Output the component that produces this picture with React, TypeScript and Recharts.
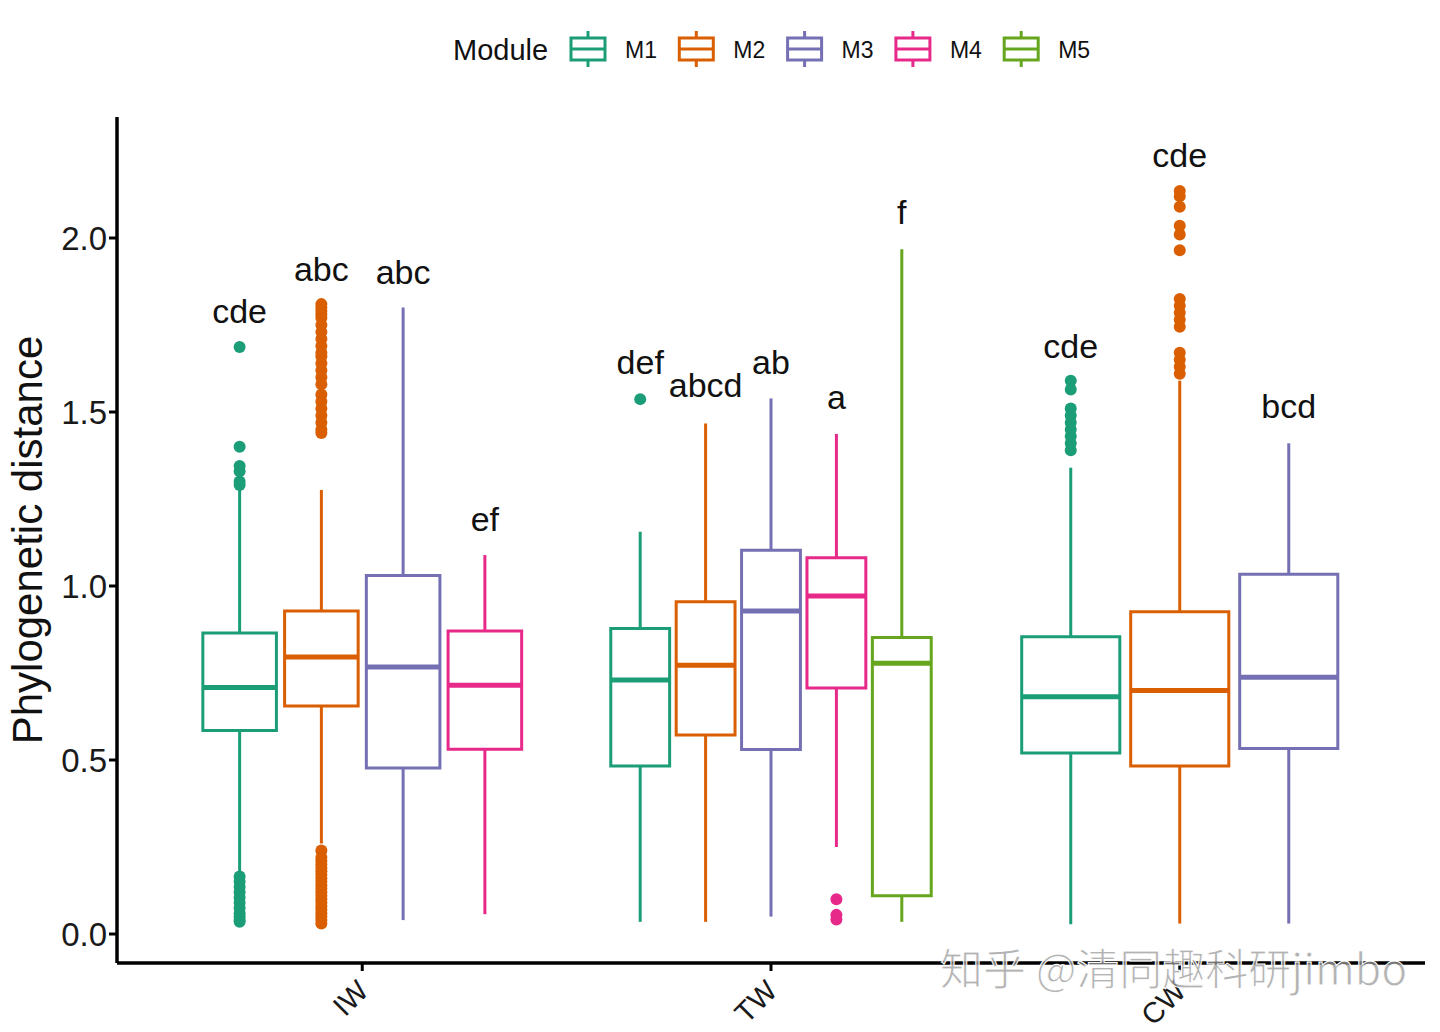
import {
  ComposedChart,
  XAxis,
  YAxis,
  Scatter,
  ReferenceArea,
  ReferenceLine,
} from "recharts";

const FONT = "'Liberation Sans', Arial, sans-serif";

const categories = ["IW", "TW", "CW"];
const modules = ["M1", "M2", "M3", "M4", "M5"];
const colors = ["#1B9E77", "#D95F02", "#7570B3", "#E7298A", "#66A61E"];
const yTicks = [0, 0.5, 1, 1.5, 2];

// outliers
const IW_M1_OUT = [1.687, 1.4, 1.345, 1.33, 1.3, 1.29, 0.165, 0.15, 0.135, 0.12, 0.105, 0.09, 0.075, 0.06, 0.05, 0.04, 0.035];
const IW_M2_OUT = [
  1.81, 1.8, 1.79, 1.78, 1.77, 1.75, 1.73, 1.71, 1.69, 1.67, 1.66, 1.64, 1.62, 1.6, 1.58, 1.55, 1.53, 1.51, 1.49,
  1.47, 1.45, 1.44, 0.24, 0.22, 0.21, 0.2, 0.19, 0.18, 0.17, 0.16, 0.15, 0.14, 0.13, 0.12, 0.11, 0.1, 0.09, 0.08,
  0.07, 0.06, 0.05, 0.04, 0.03,
];
const TW_M1_OUT = [1.537];
const TW_M4_OUT = [0.1, 0.055, 0.042];
const CW_M1_OUT = [1.59, 1.565, 1.51, 1.49, 1.47, 1.45, 1.43, 1.41, 1.39];
const CW_M2_OUT = [2.135, 2.12, 2.09, 2.035, 2.01, 1.965, 1.825, 1.805, 1.785, 1.765, 1.745, 1.67, 1.65, 1.63, 1.61];

const IW_BOXES = [
  { m: 0, lo: 0.18, q1: 0.585, med: 0.708, q3: 0.865, hi: 1.28, letter: "cde", ly: 1.79, out: IW_M1_OUT },
  { m: 1, lo: 0.26, q1: 0.655, med: 0.796, q3: 0.928, hi: 1.276, letter: "abc", ly: 1.911, out: IW_M2_OUT },
  { m: 2, lo: 0.04, q1: 0.477, med: 0.767, q3: 1.03, hi: 1.8, letter: "abc", ly: 1.902, out: [] },
  { m: 3, lo: 0.057, q1: 0.531, med: 0.715, q3: 0.871, hi: 1.089, letter: "ef", ly: 1.193, out: [] },
];
const TW_BOXES = [
  { m: 0, lo: 0.035, q1: 0.483, med: 0.73, q3: 0.878, hi: 1.156, letter: "def", ly: 1.644, out: TW_M1_OUT },
  { m: 1, lo: 0.035, q1: 0.572, med: 0.772, q3: 0.955, hi: 1.467, letter: "abcd", ly: 1.578, out: [] },
  { m: 2, lo: 0.05, q1: 0.53, med: 0.928, q3: 1.103, hi: 1.539, letter: "ab", ly: 1.644, out: [] },
  { m: 3, lo: 0.25, q1: 0.707, med: 0.971, q3: 1.081, hi: 1.437, letter: "a", ly: 1.543, out: TW_M4_OUT },
  { m: 4, lo: 0.035, q1: 0.11, med: 0.778, q3: 0.852, hi: 1.968, letter: "f", ly: 2.075, out: [] },
];
const CW_BOXES = [
  { m: 0, lo: 0.028, q1: 0.52, med: 0.682, q3: 0.854, hi: 1.34, letter: "cde", ly: 1.69, out: CW_M1_OUT },
  { m: 1, lo: 0.03, q1: 0.483, med: 0.7, q3: 0.926, hi: 1.59, letter: "cde", ly: 2.239, out: CW_M2_OUT },
  { m: 2, lo: 0.03, q1: 0.533, med: 0.738, q3: 1.034, hi: 1.41, letter: "bcd", ly: 1.517, out: [] },
];

const groups = [IW_BOXES, TW_BOXES, CW_BOXES];

// dodge positions like ggplot (width 0.8, padding 0.1)
const boxes = groups.flatMap((g, gi) => {
  const slot = 0.8 / g.length;
  return g.map((b, i) => {
    const x = gi + 1 + (i - (g.length - 1) / 2) * slot;
    return { ...b, x, half: (slot * 0.9) / 2, color: colors[b.m] };
  });
});

const outlierData = boxes.flatMap((b) => b.out.map((y) => ({ x: b.x, y, color: b.color })));
const letterData = boxes.map((b) => ({ x: b.x, y: b.ly, text: b.letter }));

const XTick = (props: any) => {
  const { x, y, payload } = props;
  const ax = x - 7;
  const ay = y + 5;
  return (
    <text
      x={ax}
      y={ay}
      transform={`rotate(-45 ${ax} ${ay})`}
      textAnchor="end"
      dy="0.72em"
      fontSize={29}
      fontFamily={FONT}
      fill="#1a1a1a"
    >
      {categories[payload.value - 1]}
    </text>
  );
};

export default function App() {
  return (
    <div style={{ position: "absolute", left: 0, top: 0, width: 1440, height: 1032, background: "#fff" }}>
      <ComposedChart width={1440} height={1032} margin={{ top: 117, right: 15, bottom: 0, left: 0 }}>
        <XAxis
          type="number"
          dataKey="x"
          domain={[0.4, 3.6]}
          ticks={[1, 2, 3]}
          interval={0}
          allowDataOverflow
          height={69}
          axisLine={{ stroke: "#000", strokeWidth: 3.5 }}
          tickLine={{ stroke: "#000", strokeWidth: 3 }}
          tickSize={8}
          tick={<XTick />}
        />
        <YAxis
          type="number"
          dataKey="y"
          domain={[-0.0833, 2.3477]}
          ticks={yTicks}
          interval={0}
          allowDataOverflow
          width={117}
          axisLine={{ stroke: "#000", strokeWidth: 3.5 }}
          tickLine={{ stroke: "#000", strokeWidth: 3 }}
          tickSize={8}
          tickFormatter={(v: number) => v.toFixed(1)}
          tick={{ fontSize: 33, fill: "#1a1a1a", fontFamily: FONT }}
        />
        {boxes.map((b, i) => (
          <ReferenceLine
            key={`wu${i}`}
            segment={[{ x: b.x, y: b.q3 }, { x: b.x, y: b.hi }]}
            stroke={b.color}
            strokeWidth={3}
          />
        ))}
        {boxes.map((b, i) => (
          <ReferenceLine
            key={`wl${i}`}
            segment={[{ x: b.x, y: b.lo }, { x: b.x, y: b.q1 }]}
            stroke={b.color}
            strokeWidth={3}
          />
        ))}
        {boxes.map((b, i) => (
          <ReferenceArea
            key={`bx${i}`}
            x1={b.x - b.half}
            x2={b.x + b.half}
            y1={b.q1}
            y2={b.q3}
            stroke={b.color}
            strokeWidth={3}
            fill="#fff"
            fillOpacity={0}
            strokeOpacity={1}
          />
        ))}
        {boxes.map((b, i) => (
          <ReferenceLine
            key={`md${i}`}
            segment={[{ x: b.x - b.half, y: b.med }, { x: b.x + b.half, y: b.med }]}
            stroke={b.color}
            strokeWidth={5}
          />
        ))}
        <Scatter
          data={outlierData}
          dataKey="y"
          isAnimationActive={false}
          shape={(p: any) => <circle cx={p.cx} cy={p.cy} r={6} fill={p.payload.color} />}
        />
        <Scatter
          data={letterData}
          dataKey="y"
          isAnimationActive={false}
          shape={(p: any) => (
            <text
              x={p.cx}
              y={p.cy}
              textAnchor="middle"
              dominantBaseline="central"
              fontSize={34}
              fontFamily={FONT}
              fill="#111"
            >
              {p.payload.text}
            </text>
          )}
        />
      </ComposedChart>

      <svg
        width={1440}
        height={1032}
        style={{ position: "absolute", left: 0, top: 0, pointerEvents: "none" }}
      >
        <text x={42} y={540} transform="rotate(-90 42 540)" textAnchor="middle" fontSize={42} fontFamily={FONT} fill="#111">
          Phylogenetic distance
        </text>
        <text x={453} y={60} fontSize={29} fontFamily={FONT} fill="#111">
          Module
        </text>
        {modules.map((m, i) => {
          const x0 = 571 + i * 108.3;
          return (
            <g key={m}>
              <line x1={x0 + 17} y1={31} x2={x0 + 17} y2={38} stroke={colors[i]} strokeWidth={3} />
              <line x1={x0 + 17} y1={60} x2={x0 + 17} y2={67} stroke={colors[i]} strokeWidth={3} />
              <rect x={x0} y={38} width={34} height={22} fill="none" stroke={colors[i]} strokeWidth={3} />
              <line x1={x0} y1={49} x2={x0 + 34} y2={49} stroke={colors[i]} strokeWidth={3} />
              <text x={x0 + 54} y={58} fontSize={23} fontFamily={FONT} fill="#111">
                {m}
              </text>
            </g>
          );
        })}
        <text
          x={940}
          y={985}
          fontSize={43}
          fontFamily="'Noto Sans CJK SC', sans-serif"
          fill="#9a9a9a"
          fillOpacity={0.75}
          stroke="#fff"
          strokeWidth={1}
        >
          知乎 @清同趣科研jimbo
        </text>
      </svg>
    </div>
  );
}
